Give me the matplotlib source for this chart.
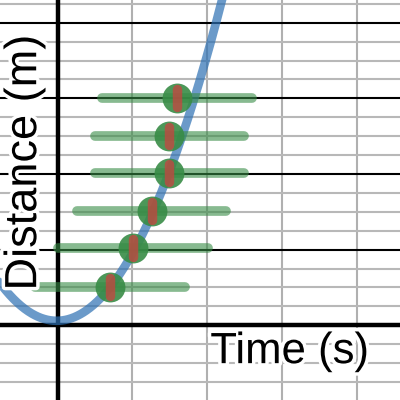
import numpy as np
import matplotlib
matplotlib.use("Agg")
import matplotlib.pyplot as plt
import matplotlib.patheffects as pe

# ---- data ----
time_s = [0.70, 1.01, 1.255, 1.495, 1.495, 1.60]
distance_m = [0.51, 1.02, 1.51, 2.01, 2.50, 3.005]
time_err = [1.0, 1.0, 1.0, 1.0, 1.0, 1.0]
distance_err = [0.12, 0.12, 0.12, 0.12, 0.12, 0.12]
# model curve: distance = a*t^2 + b*t + c
curve_coeffs = [0.87, 0.02, 0.06]
x_label = "Time (s)"
y_label = "Distance (m)"

GREEN = "#388c46"
RED = "#c74440"
BLUE = "#2d70b3"

fig = plt.figure(figsize=(4, 4), dpi=100)
ax = fig.add_axes([0, 0, 1, 1])

# grid
ax.set_xticks(np.arange(-1, 6, 1))
ax.set_yticks(np.arange(-1, 5, 1))
ax.set_yticks(np.arange(-1, 4.5, 0.25), minor=True)
ax.tick_params(which="both", length=0, labelbottom=False, labelleft=False)
ax.grid(axis="x", which="major", color="#b0b0b0", linewidth=1.5, zorder=0)
ax.grid(axis="y", which="minor", color="#b8b8b8", linewidth=1.5, zorder=0)
ax.grid(axis="y", which="major", color="black", linewidth=1.5, zorder=0)
ax.set_axisbelow(True)
for s in ax.spines.values():
    s.set_visible(False)
ax.axhline(0, color="black", linewidth=3.2, zorder=1)
ax.axvline(0, color="black", linewidth=3.2, zorder=1)

# curve
t = np.linspace(-1, 3, 400)
ax.plot(t, np.polyval(curve_coeffs, t), color=BLUE, alpha=0.7,
        linewidth=6.2, solid_capstyle="round", zorder=2)

# error bars
eb1 = ax.errorbar(time_s, distance_m, xerr=time_err, fmt="none",
                  ecolor=GREEN, elinewidth=7.0, alpha=0.6, zorder=3)
for lc in eb1[2]:
    lc.set_capstyle("round")
ax.plot(time_s, distance_m, "o", color=GREEN, markersize=21.5, alpha=0.9,
        markeredgewidth=0, zorder=4)
eb2 = ax.errorbar(time_s, distance_m, yerr=distance_err, fmt="none",
                  ecolor=RED, elinewidth=6.8, alpha=0.75, zorder=5)
for lc in eb2[2]:
    lc.set_capstyle("round")

halo = [pe.withStroke(linewidth=5, foreground="white")]
ax.text(2.04, -0.50, x_label, fontsize=31.5, family="Liberation Sans",
        ha="left", va="baseline", path_effects=halo, zorder=6)
ax.text(-0.285, 0.46, y_label, fontsize=32.5, family="Liberation Sans",
        rotation=90, rotation_mode="anchor", ha="left", va="baseline",
        path_effects=halo, zorder=6)

ax.set_xlim(-0.768, 4.573)
ax.set_ylim(-0.987, 4.30)

fig.savefig("out.png", dpi=100)
